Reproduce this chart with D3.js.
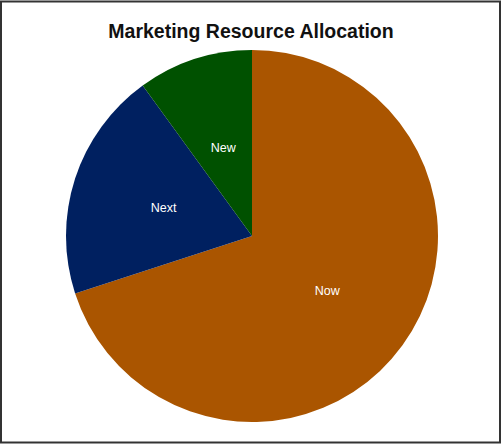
<!DOCTYPE html>
<html>
<head>
<meta charset="utf-8">
<script src="https://cdn.jsdelivr.net/npm/d3@7"></script>
<style>
  body { margin: 0; background: #fff; }
  svg { display: block; }
</style>
</head>
<body>
<div id="chart"></div>
<script>
// data
var categories = ["Now", "Next", "New"];
var shares = [70, 20, 10];
var sliceColors = ["#aa5500", "#002060", "#005100"];

var W = 502, H = 444;
var cx = 252, cy = 236, radius = 186;

var svg = d3.select("#chart")
    .append("svg")
    .attr("width", W)
    .attr("height", H);

// frame
svg.append("rect")
    .attr("x", 1)
    .attr("y", 1.5)
    .attr("width", W - 3)
    .attr("height", H - 3)
    .attr("fill", "#fff")
    .attr("stroke", "#333")
    .attr("stroke-width", 2);

// title
svg.append("text")
    .attr("x", 251)
    .attr("y", 38)
    .attr("text-anchor", "middle")
    .style("font-family", "Liberation Sans, Arial, sans-serif")
    .style("font-weight", "bold")
    .style("font-size", "19.5px")
    .attr("fill", "#111")
    .text("Marketing Resource Allocation");

var color = d3.scaleOrdinal()
    .domain(categories)
    .range(sliceColors);

var pie = d3.pie()
    .sort(null)
    .value(function(d) { return d.value; });

var arc = d3.arc()
    .innerRadius(0)
    .outerRadius(radius);

var data = categories.map(function(c, i) { return { name: c, value: shares[i] }; });

var g = svg.append("g")
    .attr("transform", "translate(" + cx + "," + cy + ")");

var slices = g.selectAll(".slice")
    .data(pie(data))
    .enter()
    .append("g")
    .attr("class", "slice");

slices.append("path")
    .attr("d", arc)
    .attr("fill", function(d) { return color(d.data.name); });

slices.append("text")
    .attr("transform", function(d) { return "translate(" + arc.centroid(d) + ")"; })
    .attr("dy", "0.35em")
    .attr("text-anchor", "middle")
    .style("font-family", "Liberation Sans, Arial, sans-serif")
    .style("font-size", "12.5px")
    .attr("fill", "#fff")
    .text(function(d) { return d.data.name; });
</script>
</body>
</html>
